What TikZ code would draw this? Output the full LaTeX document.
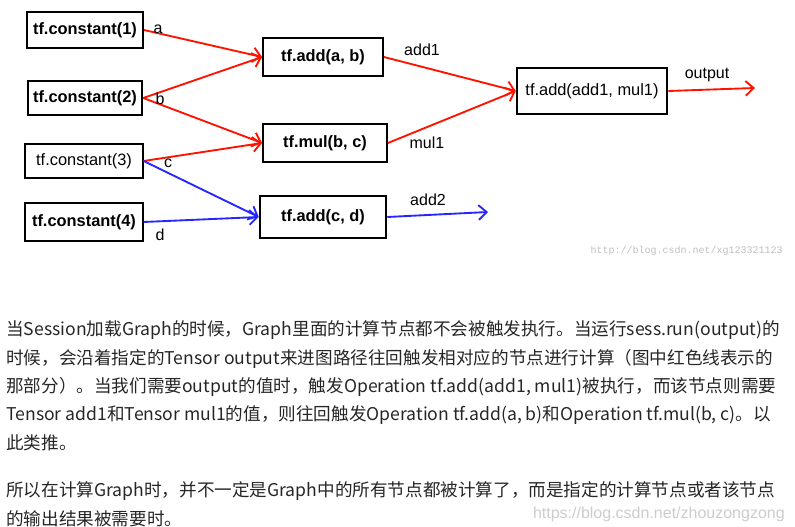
\documentclass[tikz,border=0pt]{standalone}
\usepackage{fontspec}
\setmainfont{Liberation Sans}
\newfontfamily\cjk{Noto Sans CJK SC}
\newfontfamily\wmfont{Liberation Mono}
\usetikzlibrary{arrows.meta, positioning}

\begin{document}
\begin{tikzpicture}[
    x=0.75pt, y=-0.75pt,
    op/.style={rectangle, draw, line width=1.4pt, inner sep=0pt, font=\fontsize{12.3}{14}\selectfont\bfseries},
    flow/.style={draw, line width=1.4pt, -{Straight Barb[length=6pt, width=11pt]}},
    red line/.style={flow, color=red!85!orange},
    blue line/.style={flow, color=blue!85!white},
    lbl/.style={font=\fontsize{12}{14}\selectfont, inner sep=0pt},
    para/.style={anchor=base west, inner sep=0pt, font=\cjk\fontsize{13.2}{15}\selectfont, text=black!85}
]
    \useasboundingbox (0,0) rectangle (795,527);

    % Constant nodes
    \node [op, minimum width=87pt, minimum height=27pt] (c1) at (85,30) {tf.constant(1)};
    \node [op, minimum width=86pt, minimum height=26pt] (c2) at (85,98) {tf.constant(2)};
    \node [op, minimum width=88pt, minimum height=25pt, font=\fontsize{12.3}{14}\selectfont] (c3) at (84,161) {tf.constant(3)};
    \node [op, minimum width=88pt, minimum height=28pt] (c4) at (84,222) {tf.constant(4)};

    % Operation nodes
    \node [op, minimum width=90pt, minimum height=29pt] (addab) at (323,57) {tf.add(a, b)};
    \node [op, minimum width=93pt, minimum height=29pt] (mulbc) at (325,143) {tf.mul(b, c)};
    \node [op, minimum width=95pt, minimum height=31pt] (addcd) at (323,217) {tf.add(c, d)};
    \node [op, minimum width=113pt, minimum height=35pt, font=\fontsize{12.3}{14}\selectfont] (final) at (592,91) {tf.add(add1, mul1)};

    % Free ends
    \coordinate (out) at (755,88);
    \coordinate (out2) at (488,212);

    % Red path
    \path [red line] (c1.east) -- (addab.west);
    \path [red line] (c2.east) -- (addab.west);
    \path [red line] (c2.east) -- (mulbc.west);
    \path [red line] (c3.east) -- (mulbc.west);
    \path [red line] (addab.east) -- (final.west);
    \path [red line] (mulbc.east) -- (final.west);
    \path [red line] (final.east) -- (out);

    % Blue path
    \path [blue line] (c3.east) -- (addcd.west);
    \path [blue line] (c4.east) -- (addcd.west);
    \path [blue line] (addcd.east) -- (out2);

    % Edge labels
    \node [lbl] (la) at (158,29) {a};
    \node [lbl] (lb) at (160,99) {b};
    \node [lbl] (lc) at (168,163) {c};
    \node [lbl] (ld) at (160,235) {d};
    \node [lbl] (ladd1) at (422,50) {add1};
    \node [lbl] (lmul1) at (427,143) {mul1};
    \node [lbl] (lout) at (707,75) {output};
    \node [lbl] (ladd2) at (428,200) {add2};

    % Watermarks
    \node [anchor=east, inner sep=0pt, text=black!25, font=\wmfont\fontsize{7.5}{9}\selectfont] (wm1) at (783,251) {http://blog.csdn.net/xg123321123};
    \node [anchor=base east, inner sep=0pt, text=black!20, font=\fontsize{12}{14}\selectfont] (wm2) at (785,518) {https://blog.csdn.net/zhouzongzong};

    % Paragraphs
    \node [para] (p1) at (6,335) {当Session加载Graph的时候，Graph里面的计算节点都不会被触发执行。当运行sess.run(output)的};
    \node [para] (p2) at (6,364) {时候，会沿着指定的Tensor output来进图路径往回触发相对应的节点进行计算（图中红色线表示的};
    \node [para] (p3) at (6,392) {那部分）。当我们需要output的值时，触发Operation tf.add(add1, mul1)被执行，而该节点则需要};
    \node [para] (p4) at (6,420) {Tensor add1和Tensor mul1的值，则往回触发Operation tf.add(a, b)和Operation tf.mul(b, c)。以};
    \node [para] (p5) at (6,449) {此类推。};
    \node [para] (p6) at (6,496) {所以在计算Graph时，并不一定是Graph中的所有节点都被计算了，而是指定的计算节点或者该节点};
    \node [para] (p7) at (6,525) {的输出结果被需要时。};
\end{tikzpicture}
\end{document}
